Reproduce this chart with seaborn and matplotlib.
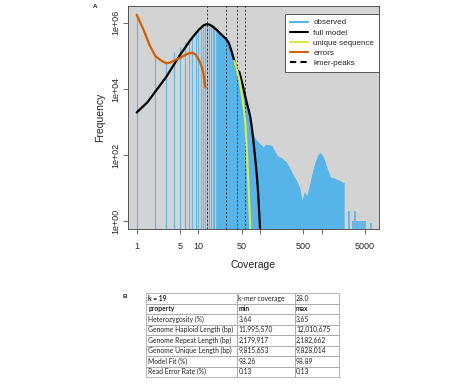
"""
GenomeScope k-mer profile (panel A) and summary table (panel B).
"""

import matplotlib

matplotlib.use("Agg")
import matplotlib.pyplot as plt
import pandas as pd
import seaborn as sns
from matplotlib.lines import Line2D
from matplotlib.ticker import FixedLocator, NullLocator

# --- observed histogram, low coverage (drawn as single lines) ---
obs_low_cov = list(range(1, 41))
obs_low_val = [1.7e6, 1.0e5, 7.0e4, 1.3e5, 1.8e5, 2.6e5, 3.4e5, 4.3e5, 5.3e5, 6.4e5,
               7.4e5, 8.3e5, 9.0e5, 9.3e5, 9.1e5, 8.7e5, 8.0e5, 7.4e5, 6.8e5, 6.2e5,
               5.7e5, 5.2e5, 4.8e5, 4.4e5, 4.1e5, 3.8e5, 3.6e5, 3.4e5, 3.1e5, 2.7e5,
               2.4e5, 2.1e5, 1.8e5, 1.5e5, 1.3e5, 1.1e5, 9.0e4, 7.6e4, 6.4e4, 5.3e4]

# --- observed histogram, dense part (filled) ---
obs_cov = [20, 23, 26, 28, 31, 34, 37, 40, 43, 46, 50, 53, 57, 61, 65, 69, 73, 77,
           83, 90, 99, 112, 122, 135, 154, 175, 197, 222, 245, 267, 305, 345, 391,
           441, 480, 518, 568, 620, 685, 740, 795, 860, 930, 1000, 1060, 1200, 1370,
           1500, 1630, 1970, 2230, 2300]
obs_val = [6.2e5, 4.8e5, 3.8e5, 3.4e5, 2.6e5, 1.6e5, 9.0e4, 5.3e4, 3.6e4, 3.4e4,
           1.9e4, 1.2e4, 6.8e3, 3.9e3, 2.5e3, 1.6e3, 8.0e2, 4.5e2, 3.2e2, 2.7e2,
           2.25e2, 1.8e2, 2.1e2, 2.1e2, 2.0e2, 1.26e2, 90, 85, 70, 63, 40, 25, 17,
           10, 4.3, 7.8, 6, 11, 25, 45, 70, 100, 120, 105, 89, 45, 22, 21, 20, 17, 15, 15]

# --- sparse high-coverage counts ---
sparse_cov = [2800, 3150, 3500, 3700, 3900, 4100, 4400, 4700, 5000, 6200]
sparse_val = [2, 1, 2, 1, 1, 1, 1, 1, 1, 0.9]

# --- fitted model ---
model_cov = [1, 1.5, 2, 3, 4, 5, 6, 7, 8, 10, 12, 13.5, 15, 17, 20, 23, 26, 28, 31,
             34, 37, 40, 43, 46, 50, 53, 57, 61, 65, 69, 73, 78, 83, 88, 93, 97, 101]
model_val = [1.95e3, 4.0e3, 8.3e3, 2.3e4, 5.4e4, 1.05e5, 1.7e5, 2.6e5, 3.6e5, 6.0e5,
             8.3e5, 9.1e5, 8.9e5, 7.8e5, 6.0e5, 4.6e5, 3.7e5, 3.3e5, 2.5e5, 1.5e5,
             8.7e4, 5.1e4, 3.6e4, 3.3e4, 1.8e4, 1.17e4, 6.5e3, 3.7e3, 2.4e3, 1.5e3,
             7.5e2, 2.6e2, 85, 28, 7, 1.7, 0.4]

unique_cov = [38, 42, 46, 50, 55, 58, 61, 64, 67, 70]
unique_val = [7.0e4, 3.8e4, 2.0e4, 8.0e3, 2.3e3, 8.0e2, 1.4e2, 20, 3, 0.4]

error_cov = [1, 1.3, 1.6, 2, 2.5, 3, 3.5, 4, 5, 6, 7, 8, 9, 10, 11, 12, 13]
error_val = [1.75e6, 6.0e5, 2.2e5, 1.0e5, 7.2e4, 6.0e4, 6.3e4, 7.2e4, 8.6e4, 1.05e5,
             1.2e5, 1.25e5, 1.1e5, 8.0e4, 5.5e4, 3.2e4, 1.1e4]

kmer_peaks = [14, 28, 42, 56]

x_ticks = [1, 5, 10, 50, 100, 500, 1000, 5000]
x_tick_labels = ["1", "5", "10", "50", "", "500", "", "5000"]
y_ticks = [1, 1e2, 1e4, 1e6]
y_tick_labels = ["1e+00", "1e+02", "1e+04", "1e+06"]

# --- table B ---
table_rows = [
    ["k = 19", "k-mer coverage", "28.0"],
    ["property", "min", "max"],
    ["Heterozygosity (%)", "3.64", "3.65"],
    ["Genome Haploid Length (bp)", "11,995,570", "12,010,675"],
    ["Genome Repeat Length (bp)", "2,179,917", "2,182,662"],
    ["Genome Unique Length (bp)", "9,815,653", "9,828,014"],
    ["Model Fit (%)", "98.26", "98.89"],
    ["Read Error Rate (%)", "0.13", "0.13"],
]

OBS = "#56B4E9"
MODEL = "black"
UNIQUE = "#d9e84a"
ERRORS = "#D55E00"
BG = "#d3d3d3"

W, H = 474, 384
YMIN, YMAX = 0.585, 3.3e6
XMIN, XMAX = 0.715, 8450


def main():
    sns.set_style("white")
    plt.rcParams["font.family"] = ["Liberation Sans", "DejaVu Sans"]

    fig = plt.figure(figsize=(W / 100, H / 100), dpi=100)
    ax = fig.add_axes([127.7 / W, 1 - 229 / H, (379 - 127.7) / W, (229 - 5.7) / H])
    ax.set_facecolor(BG)
    ax.set_xscale("log")
    ax.set_yscale("log")
    ax.set_xlim(XMIN, XMAX)
    ax.set_ylim(YMIN, YMAX)

    # observed
    ax.vlines(obs_low_cov, 1e-3, obs_low_val, color=OBS, lw=0.9, alpha=0.85, zorder=1)
    ax.fill_between(obs_cov, 1e-3, obs_val, color=OBS, lw=0, zorder=1)
    ax.vlines(sparse_cov, 1e-3, sparse_val, color=OBS, lw=1.2, zorder=1)

    # peaks
    for p in kmer_peaks:
        ax.axvline(p, color="#333333", lw=0.7, ls=(0, (2, 2)), zorder=2)

    # model curves
    curves = pd.DataFrame({
        "cov": model_cov + unique_cov + error_cov,
        "freq": model_val + unique_val + error_val,
        "part": ["full model"] * len(model_cov) + ["unique sequence"] * len(unique_cov)
                + ["errors"] * len(error_cov),
    })
    sns.lineplot(data=curves, x="cov", y="freq", hue="part", estimator=None, sort=True,
                 palette={"full model": MODEL, "unique sequence": UNIQUE, "errors": ERRORS},
                 linewidth=1.6, legend=False, ax=ax, zorder=3)

    ax.xaxis.set_major_locator(FixedLocator(x_ticks))
    ax.set_xticklabels(x_tick_labels)
    ax.xaxis.set_minor_locator(NullLocator())
    ax.yaxis.set_major_locator(FixedLocator(y_ticks))
    ax.set_yticklabels(y_tick_labels, rotation=90, va="center")
    ax.yaxis.set_minor_locator(NullLocator())
    ax.tick_params(axis="both", length=3.5, width=0.6, color="#555555", labelsize=6.5,
                   direction="out", left=True, bottom=True, pad=2)
    ax.tick_params(axis="x", pad=6)
    for s in ax.spines.values():
        s.set_color("#555555")
        s.set_linewidth(0.7)

    ax.set_xlabel("Coverage", fontsize=7.5, labelpad=6)
    ax.set_ylabel("Frequency", fontsize=7.5, labelpad=4)

    handles = [
        Line2D([], [], color=OBS, lw=1.5),
        Line2D([], [], color=MODEL, lw=1.5),
        Line2D([], [], color=UNIQUE, lw=1.5),
        Line2D([], [], color=ERRORS, lw=1.5),
        Line2D([], [], color="black", lw=1.5, ls=(0, (3, 2))),
    ]
    labels = ["observed", "full model", "unique sequence", "errors", "kmer-peaks"]
    leg = ax.legend(handles, labels, loc="upper right", bbox_to_anchor=(1.0, 1 - 8.3 / 223.3),
                    borderaxespad=0, fontsize=5.8, frameon=True, fancybox=False,
                    framealpha=1, edgecolor="#555555", handlelength=2.2,
                    labelspacing=0.3, borderpad=0.6, handletextpad=0.7)
    leg.get_frame().set_linewidth(0.7)

    fig.text(95 / W, 1 - 7 / H, "A", fontsize=4.5, fontweight="bold", ha="center", va="center")
    fig.text(125 / W, 1 - 297 / H, "B", fontsize=4.5, fontweight="bold", ha="center", va="center")

    # table B
    tax = fig.add_axes([146 / W, 1 - 377 / H, (339 - 146) / W, (377 - 293) / H])
    tax.axis("off")
    tbl = tax.table(cellText=table_rows, cellLoc="left", bbox=[0, 0, 1, 1],
                    colWidths=[91, 58, 44])
    tbl.auto_set_font_size(False)
    for (r, c), cell in tbl.get_celld().items():
        cell.set_edgecolor("#9a9a9a")
        cell.set_linewidth(0.5)
        cell.PAD = 0.025
        txt = cell.get_text()
        txt.set_fontsize(4.9)
        txt.set_family(["Lato", "DejaVu Sans"])
        txt.set_color("#222222")
        if (r == 0 and c == 0) or r == 1:
            txt.set_fontweight("bold")

    fig.savefig("out.png", dpi=100)
    plt.close(fig)


if __name__ == "__main__":
    main()
